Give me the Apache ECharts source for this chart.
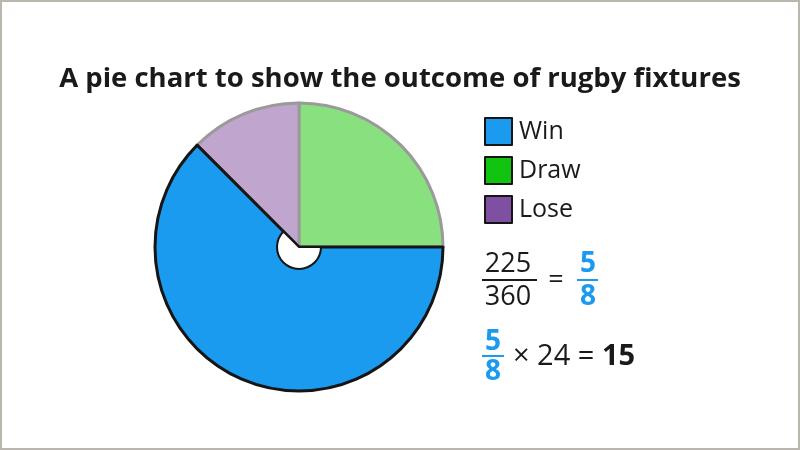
<!DOCTYPE html>
<html>
<head>
<meta charset="utf-8">
<script src="https://cdn.jsdelivr.net/npm/echarts@6/dist/echarts.min.js"></script>
<style>html,body{margin:0;padding:0;background:#fff}#c{width:800px;height:450px}</style>
</head>
<body>
<div id="c"></div>
<script>
// Data
var categories = ['Win', 'Draw', 'Lose'];
var angles = [225, 90, 45];
var totalFixtures = 24;
var legendColors = ['#1a9bef', '#10c410', '#7f4fa1'];
var sliceColors = ['#1a9bef', '#88e07f', '#c0a5cf'];
var sliceBorders = ['#151515', '#9a9a9a', '#9a9a9a'];

var FONT = 'Open Sans';
var winAngle = angles[0];
var fullTurn = angles.reduce(function (a, b) { return a + b; }, 0);
var num = 5, den = 8;
var result = winAngle / fullTurn * totalFixtures;

// Draw order: Draw, Lose, Win (counter-clockwise from east) so Win's black border is on top
var order = [1, 2, 0];
var pieData = order.map(function (i) {
  return {
    name: categories[i], value: angles[i],
    itemStyle: { color: sliceColors[i], borderColor: sliceBorders[i], borderWidth: 3 }
  };
});
var markerData = order.map(function (i) {
  return i === 0
    ? { name: categories[i], value: angles[i], itemStyle: { color: '#ffffff', borderColor: '#151515', borderWidth: 2 } }
    : { name: categories[i] + ' ', value: angles[i], itemStyle: { color: 'rgba(0,0,0,0)', borderWidth: 0 } };
});

var chart = echarts.init(document.getElementById('c'));
var blue = '#1a9bef';
var txt = '#1a1a1a';
function t(x, y, s, opts) {
  opts = opts || {};
  return {
    type: 'text', x: x, y: y, silent: true,
    style: {
      text: s, fill: opts.fill || txt, font: (opts.bold ? 'bold ' : '') + (opts.size || 27) + 'px "' + FONT + '"',
      textAlign: opts.align || 'center', textVerticalAlign: 'middle'
    }
  };
}
function bar(x1, x2, y, color) {
  return { type: 'line', silent: true, shape: { x1: x1, y1: y, x2: x2, y2: y }, style: { stroke: color, lineWidth: 2 } };
}

chart.setOption({
  backgroundColor: '#ffffff',
  animation: false,
  title: {
    text: 'A pie chart to show the outcome of rugby fixtures',
    left: 'center', top: 60,
    textStyle: { fontFamily: FONT, fontSize: 27.5, fontWeight: 'bold', color: txt }
  },
  legend: {
    orient: 'vertical', left: 479, top: 112,
    itemWidth: 27, itemHeight: 27, itemGap: 10, icon: 'rect',
    selectedMode: false,
    textStyle: { fontFamily: FONT, fontSize: 25, color: txt, padding: [0, 0, 0, 2] },
    data: categories.map(function (c, i) {
      return { name: c, itemStyle: { color: legendColors[i], borderColor: '#151515', borderWidth: 2 } };
    })
  },
  series: [
    {
      type: 'pie', center: [299, 247], radius: [0, 144],
      startAngle: 0, clockwise: false, silent: true,
      label: { show: false }, labelLine: { show: false },
      data: pieData
    },
    {
      type: 'pie', center: [299, 247], radius: [0, 22],
      startAngle: 0, clockwise: false, silent: true,
      label: { show: false }, labelLine: { show: false },
      data: markerData
    }
  ],
  graphic: [
    { type: 'rect', silent: true, shape: { x: 1, y: 1, width: 798, height: 448 }, style: { fill: 'none', stroke: '#bab6ae', lineWidth: 2 } },
    t(268, 289, winAngle + '°', { size: 25 }),
    t(508, 264, String(winAngle)),
    bar(482, 537, 280, txt),
    t(508, 297, String(fullTurn)),
    t(556, 280, '='),
    t(588, 264, String(num), { fill: blue, bold: true, size: 28 }),
    bar(577, 598, 280, blue),
    t(588, 297, String(den), { fill: blue, bold: true, size: 28 }),
    t(493, 342, String(num), { fill: blue, bold: true, size: 28 }),
    bar(482, 504, 356, blue),
    t(493, 372, String(den), { fill: blue, bold: true, size: 28 }),
    {
      type: 'text', x: 513, y: 357, silent: true,
      style: {
        text: '{n|× ' + totalFixtures + ' = }{b|' + result + '}',
        textAlign: 'left', textVerticalAlign: 'middle',
        rich: {
          n: { fontFamily: FONT, fontSize: 29, fill: txt, color: txt },
          b: { fontFamily: FONT, fontSize: 29, fontWeight: 'bold', fill: txt, color: txt }
        }
      }
    }
  ]
});
</script>
</body>
</html>
